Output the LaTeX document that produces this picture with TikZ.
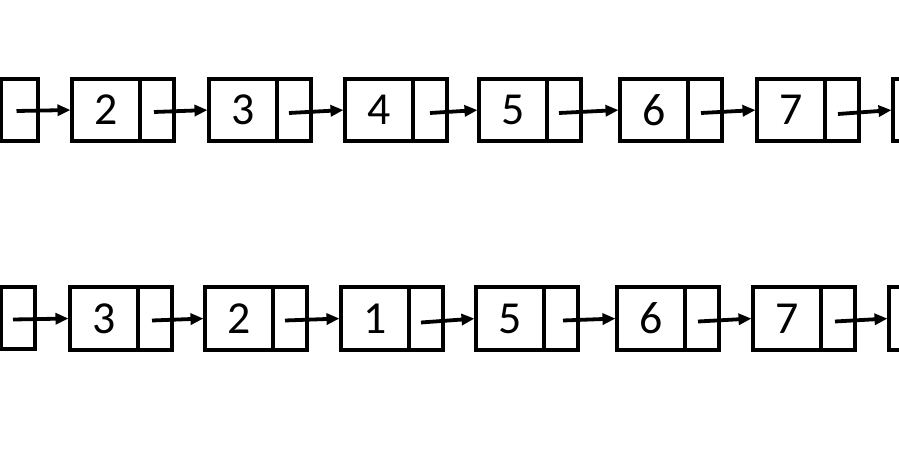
\documentclass[tikz,border=0pt]{standalone}
\usepackage{fontspec}
\setmainfont{Carlito}
\usetikzlibrary{arrows.meta}

\begin{document}
\begin{tikzpicture}[x=1bp, y=-1bp,
    datacell/.style={draw, line width=4bp, rectangle, inner sep=0pt, outer sep=0pt,
      minimum width=68bp, minimum height=62bp, anchor=west,
      font=\fontsize{46}{52}\selectfont},
    ptrcell/.style={draw, line width=4bp, rectangle, inner sep=0pt, outer sep=0pt,
      minimum width=34bp, minimum height=62bp, anchor=west},
    link/.style={line width=3.8bp, shorten >=1.5bp,
      -{Triangle[length=13bp, width=11bp]}}]
        \useasboundingbox (0,0) rectangle (899,472);
        \clip (0,0) rectangle (899,472);

        % top row
        \node[ptrcell, minimum width=37bp, anchor=east] (tl) at (38,110) {};
        \node[datacell] (t2) at (72,110) {2};
        \node[ptrcell] (t2p) at (t2.east) {};
        \node[datacell] (t3) at (209,110) {3};
        \node[ptrcell] (t3p) at (t3.east) {};
        \node[datacell] (t4) at (345,110) {4};
        \node[ptrcell] (t4p) at (t4.east) {};
        \node[datacell] (t5) at (479,110) {5};
        \node[ptrcell] (t5p) at (t5.east) {};
        \node[datacell] (t6) at (620,110) {6};
        \node[ptrcell] (t6p) at (t6.east) {};
        \node[datacell] (t7) at (757,110) {7};
        \node[ptrcell] (t7p) at (t7.east) {};
        \node[datacell] (tr) at (893,110) {};

        \draw[link] ([xshift=-3bp, yshift=-1bp]tl.center) -- (t2.west);
        \draw[link] ([xshift=-3bp, yshift=-2bp]t2p.center) -- (t3.west);
        \draw[link] ([xshift=-5bp, yshift=-3bp]t3p.center) -- (t4.west);
        \draw[link] ([yshift=-3bp]t4p.center) -- (t5.west);
        \draw[link] ([xshift=-5bp, yshift=-3bp]t5p.center) -- (t6.west);
        \draw[link] ([xshift=-4bp, yshift=-3bp]t6p.center) -- (t7.west);
        \draw[link] ([xshift=-4bp, yshift=-4bp]t7p.center) -- (tr.west);

        % bottom row
        \node[ptrcell, anchor=east] (bl) at (35,318.5) {};
        \node[datacell, minimum height=63bp] (b3) at (70,318.5) {3};
        \node[ptrcell, minimum height=63bp] (b3p) at (b3.east) {};
        \node[datacell, minimum height=63bp] (b2) at (205,318.5) {2};
        \node[ptrcell, minimum height=63bp] (b2p) at (b2.east) {};
        \node[datacell, minimum height=63bp] (b1) at (341,318.5) {1};
        \node[ptrcell, minimum height=63bp] (b1p) at (b1.east) {};
        \node[datacell, minimum height=63bp] (b5) at (476,318.5) {5};
        \node[ptrcell, minimum height=63bp] (b5p) at (b5.east) {};
        \node[datacell, minimum height=63bp] (b6) at (617,318.5) {6};
        \node[ptrcell, minimum height=63bp] (b6p) at (b6.east) {};
        \node[datacell, minimum height=63bp] (b7) at (753,318.5) {7};
        \node[ptrcell, minimum height=63bp] (b7p) at (b7.east) {};
        \node[datacell, minimum height=63bp] (br) at (889,318.5) {};

        \draw[link] ([xshift=-5bp, yshift=-1bp]bl.center) -- (b3.west);
        \draw[link] ([xshift=-3bp, yshift=-2bp]b3p.center) -- (b2.west);
        \draw[link] ([xshift=-5bp, yshift=-2bp]b2p.center) -- (b1.west);
        \draw[link] ([xshift=-5bp, yshift=-4bp]b1p.center) -- (b5.west);
        \draw[link] ([xshift=2bp, yshift=-2bp]b5p.center) -- (b6.west);
        \draw[link] ([xshift=-4bp, yshift=-3bp]b6p.center) -- (b7.west);
        \draw[link] ([xshift=-3bp, yshift=-3bp]b7p.center) -- (br.west);
    \end{tikzpicture}
\end{document}
